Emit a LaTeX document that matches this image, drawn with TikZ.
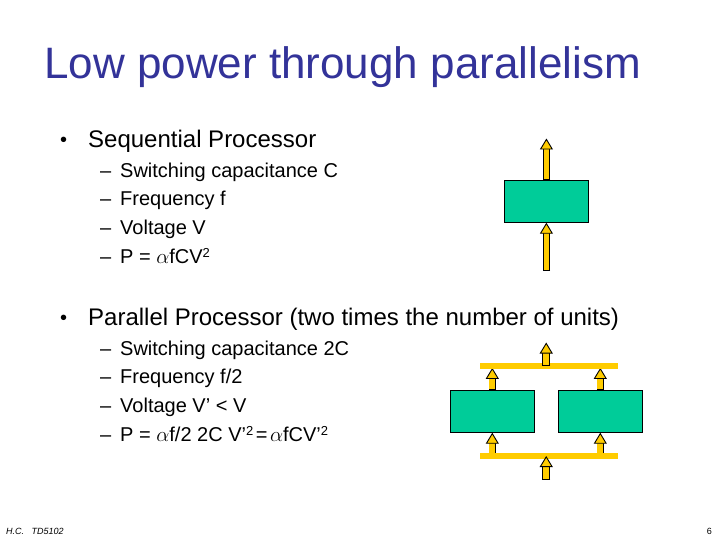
\documentclass[tikz,border=0pt]{standalone}
\usepackage{fontspec}
\setmainfont{Liberation Sans}
\usetikzlibrary{arrows.meta}
\definecolor{titleblue}{RGB}{51,51,153}
\definecolor{unitgreen}{RGB}{0,204,153}
\definecolor{busyellow}{RGB}{255,204,0}
\newcommand{\squared}{\raisebox{5.5pt}{\fontsize{13}{13}\selectfont 2}}
\begin{document}
\begin{tikzpicture}[x=1pt,y=-1pt]
	\tikzset{
		enclosed/.style={draw=black, line width=.8pt, fill=unitgreen, inner sep=0pt, minimum width=84pt, minimum height=42pt},
		bus/.style={fill=busyellow, inner sep=0pt, minimum width=138pt, minimum height=6pt},
		flow/.style={draw=black, line width=.9pt, double=busyellow, double distance=5.8pt, {Bar[width=7.6pt,line width=.9pt]}-{Triangle[width=13pt,length=11pt,fill=busyellow,line width=.9pt]}},
		head/.style={anchor=base west, inner sep=0pt, font=\fontsize{24}{24}\selectfont},
		line/.style={anchor=base west, inner sep=0pt, font=\fontsize{20}{20}\selectfont}
	}
	\useasboundingbox (0,0) rectangle (720,540);

	\node[anchor=base west, inner sep=0pt, text=titleblue, font=\fontsize{44}{44}\selectfont] (title) at (44,79) {Low power through parallelism};

	\node[line] (seqdot) at (60,147) {•};
	\node[head] (seq) at (88,147.5) {Sequential Processor};
	\foreach \t [count=\ni from 0] in {Switching capacitance C,Frequency f,Voltage V,{P = $\alpha$fCV\squared}}{
		\node[line] at (100,177.2+\ni*28.7) (seqdash\ni) {–};
		\node[line] at (120,177.2+\ni*28.7) (seqline\ni) {\t};
	}

	\node[line] (pardot) at (60,324.5) {•};
	\node[head] (par) at (88,325) {Parallel Processor (two times the number of units)};
	\foreach \t [count=\ni from 0] in {Switching capacitance 2C,Frequency f/2,Voltage V’ < V,{P = $\alpha$f/2 2C V’\squared{} \kern-3pt=\kern-3pt{} $\alpha$fCV’\squared}}{
		\node[line] at (100,355.2+\ni*28.7) (pardash\ni) {–};
		\node[line] at (120,355.2+\ni*28.7) (parline\ni) {\t};
	}

	\node[enclosed] (sequnit) at (546.4,201.3) {};
	\coordinate (seqout) at (546.4,138.5);
	\coordinate (seqin) at (546.4,270.5);
	\draw[flow] (sequnit.north) -- (seqout);
	\draw[flow] (seqin) -- (sequnit.south);

	\node[enclosed] (unita) at (492.3,411.3) {};
	\node[enclosed] (unitb) at (600.3,411.3) {};
	\coordinate (parout) at (546.2,342.5);
	\coordinate (parin) at (546.2,480);
	\draw[flow] (unita.north) -- ++(0,-22);
	\draw[flow] (unitb.north) -- ++(0,-22);
	\draw[flow] (unita.south) ++(0,24) -- (unita.south);
	\draw[flow] (unitb.south) ++(0,24) -- (unitb.south);
	\node[bus] (outbus) at (549,366) {};
	\node[bus] (inbus) at (549,456) {};
	\draw[flow] (outbus.center -| parout) -- (parout);
	\draw[flow] (parin) -- (inbus.center -| parin);

	\node[anchor=base west, inner sep=0pt, font=\itshape\fontsize{9}{9}\selectfont] (author) at (6,534) {H.C.\ \ \ TD5102};
	\node[anchor=base east, inner sep=0pt, font=\fontsize{9}{9}\selectfont] (page) at (712,534) {6};
\end{tikzpicture}
\end{document}
